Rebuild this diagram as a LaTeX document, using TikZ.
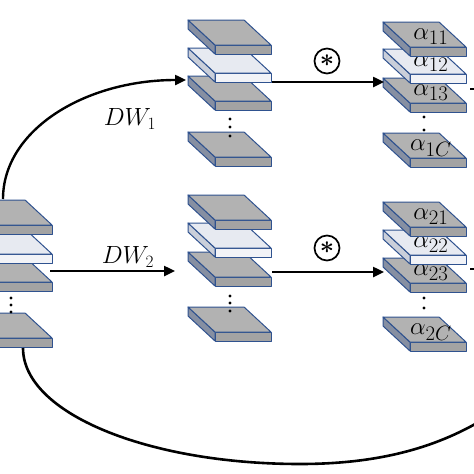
\documentclass[tikz,border=0pt]{standalone}
\usepackage{tikz}
\usetikzlibrary{arrows.meta}

\definecolor{slabline}{RGB}{47,82,143}
\definecolor{dktop}{RGB}{178,178,178}
\definecolor{dkfront}{RGB}{163,163,163}
\definecolor{dkside}{RGB}{134,143,162}
\definecolor{lttop}{RGB}{231,234,241}
\definecolor{ltfront}{RGB}{242,243,247}
\definecolor{ltside}{RGB}{202,207,218}

\tikzset{
  slab edge/.style={draw=slabline, line width=1pt, line join=round},
  arr/.style={line width=2.4pt, -{Triangle[length=11pt, width=10pt]}},
  loop line/.style={line width=2.6pt},
  alpha label/.style={inner sep=0pt, font=\fontsize{28}{32}\selectfont},
  dw label/.style={inner sep=0pt, font=\fontsize{26}{30}\selectfont},
  conv/.style={circle, draw, line width=1.7pt, minimum size=25pt, inner sep=0pt, font=\fontsize{26}{30}\selectfont\boldmath},
}

% one slab: name, front-left corner x, y, look (dk/lt), label
\newcommand{\drawslab}[5]{%
  \coordinate (#1) at (#2,#3);
  \filldraw[slab edge, fill=#4side] (#1) -- ++(-27,-25) -- ++(0,9) -- ++(27,25) -- cycle;
  \filldraw[slab edge, fill=#4front] (#1) rectangle ++(56,9);
  \filldraw[slab edge, fill=#4top] (#1) -- ++(56,0) -- ++(-27,-25) -- ++(-56,0) -- cycle;
  \node[alpha label] (#1-lbl) at (#2+21,#3-10) {#5};
}

\begin{document}
\begin{tikzpicture}[x=1pt, y=-1pt]
\useasboundingbox (0,0) rectangle (474,474);
\clip (0,0) rectangle (474,474);

% input stack
\drawslab{in4}{-4}{338}{dk}{}
\drawslab{in3}{-4}{282}{dk}{}
\drawslab{in2}{-4}{254}{lt}{}
\drawslab{in1}{-4}{225}{dk}{}
\foreach \y in {298,305,312}
	\fill (11,\y) circle (1.6);

% depthwise outputs, first branch
\drawslab{da4}{215}{157}{dk}{}
\drawslab{da3}{215}{101}{dk}{}
\drawslab{da2}{215}{73}{lt}{}
\drawslab{da1}{215}{45}{dk}{}
\foreach \y in {119,127,136}
	\fill (230,\y) circle (1.6);

% depthwise outputs, second branch
\drawslab{db4}{215}{332}{dk}{}
\drawslab{db3}{215}{277}{dk}{}
\drawslab{db2}{215}{248}{lt}{}
\drawslab{db1}{215}{220}{dk}{}
\foreach \y in {296,303,311}
	\fill (230,\y) circle (1.6);

% weighted stacks
\drawslab{wa4}{410}{158}{dk}{$\alpha_{1C}$}
\foreach \y in {117,130}
	\fill (424,\y) circle (1.6);
\drawslab{wa3}{410}{103}{dk}{$\alpha_{13}$}
\drawslab{wa2}{410}{74}{lt}{$\alpha_{12}$}
\drawslab{wa1}{410}{47}{dk}{$\alpha_{11}$}

\drawslab{wb4}{410}{342}{dk}{$\alpha_{2C}$}
\foreach \y in {298,308}
	\fill (424,\y) circle (1.6);
\drawslab{wb3}{410}{283}{dk}{$\alpha_{23}$}
\drawslab{wb2}{410}{255}{lt}{$\alpha_{22}$}
\drawslab{wb1}{410}{227}{dk}{$\alpha_{21}$}

% connectors
\coordinate (dw1 start) at (3,199);
\coordinate (dw1 end) at (186,80);
\coordinate (dw2 start) at (50,271);
\coordinate (dw2 end) at (175,271);
\coordinate (ca start) at (272,82);
\coordinate (ca end) at (384,82);
\coordinate (cb start) at (272,272);
\coordinate (cb end) at (384,272);
\coordinate (loop start) at (23,348);
\coordinate (loop low) at (300,464);
\coordinate (loop end) at (495,412);
\coordinate (outa start) at (470,89);
\coordinate (outa end) at (476,89);
\coordinate (outb start) at (470,269);
\coordinate (outb end) at (476,269);

\draw[arr] (dw1 start) .. controls (3,130) and (85,80) .. (dw1 end);
\draw[arr] (dw2 start) -- (dw2 end);
\draw[arr] (ca start) -- (ca end);
\draw[arr] (cb start) -- (cb end);
\draw[loop line] (loop start) .. controls (23,413) and (147,464) .. (loop low)
	.. controls (385,464) and (445,445) .. (loop end);
\draw[line width=2.4pt] (outa start) -- (outa end);
\draw[line width=2.4pt] (outb start) -- (outb end);

\node[dw label] (dw1) at (130,119) {$DW_1$};
\node[dw label] (dw2) at (128,257) {$DW_2$};
\node[conv] (conva) at (327,61) {$\ast$};
\node[conv] (convb) at (327,248) {$\ast$};

\end{tikzpicture}
\end{document}
